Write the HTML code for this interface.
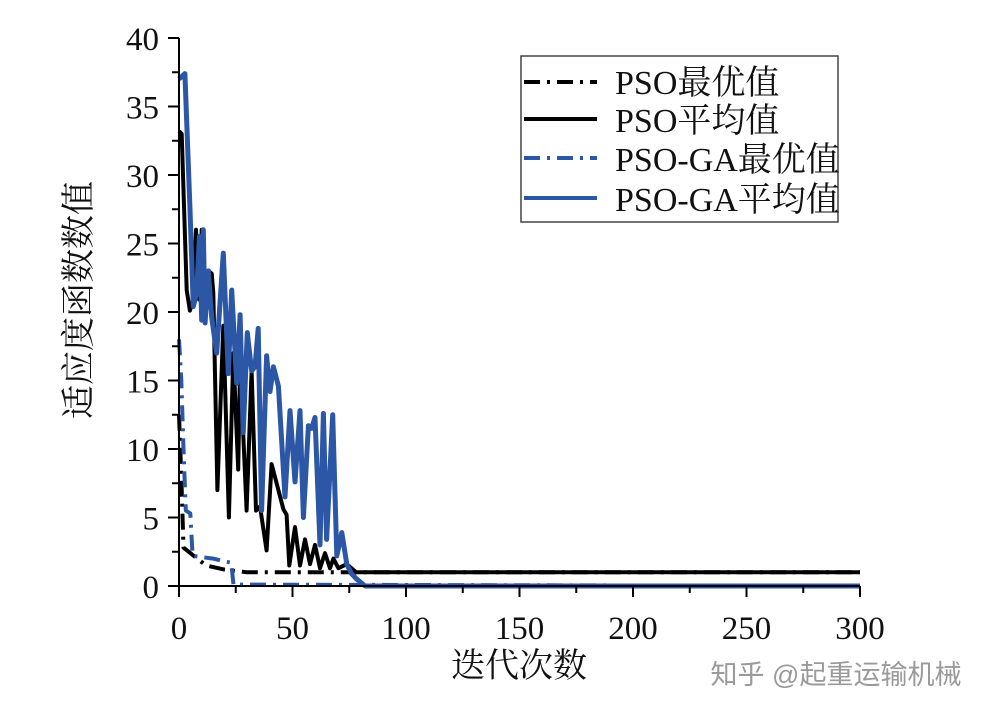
<!DOCTYPE html>
<html><head><meta charset="utf-8"><style>
html,body{margin:0;padding:0;background:#fff;}
svg{display:block;}
text{font-family:"Liberation Serif","Noto Serif CJK SC",serif;fill:#111;}
</style></head><body>
<svg id="chart" width="998" height="713" viewBox="0 0 998 713">
<g id="plot"></g>
<g id="axes"></g>
<text x="0" y="0" transform="translate(90,300) rotate(-90)" text-anchor="middle" font-size="34">适应度函数数值</text>
<text x="519" y="677" text-anchor="middle" font-size="34">迭代次数</text>
<text x="836" y="684" text-anchor="middle" font-size="27" style="fill:#9a9a9a;font-family:'Liberation Sans','Noto Sans CJK SC',sans-serif">知乎 @起重运输机械</text>
<g>
<rect x="521" y="56" width="317" height="166" fill="#fff" stroke="#444" stroke-width="1.5"/>
<g>
<line x1="524" y1="82" x2="597" y2="82" stroke="#000" stroke-width="4" stroke-dasharray="16,7,3,7"/>
<text x="615" y="94" font-size="34">PSO最优值</text></g>
<g>
<line x1="524" y1="119" x2="597" y2="119" stroke="#000" stroke-width="4"/>
<text x="615" y="132" font-size="34">PSO平均值</text></g>
<g>
<line x1="524" y1="158" x2="597" y2="158" stroke="#2c56a6" stroke-width="4" stroke-dasharray="16,7,3,7"/>
<text x="615" y="171" font-size="34">PSO-GA最优值</text></g>
<g>
<line x1="524" y1="198" x2="597" y2="198" stroke="#2c56a6" stroke-width="4"/>
<text x="615" y="211" font-size="34">PSO-GA平均值</text></g>
</g>
</svg>
<script>
const xTicks=[0,50,100,150,200,250,300];
const yTicks=[0,5,10,15,20,25,30,35,40];
const psoMeanX=[0,1.2,3.4,4.8,6.3,7.5,9,10,11.5,12.9,14.4,15.1,16.9,19.5,22,23.9,26.1,26.9,29.8,32,33.9,35.7,38.6,40.8,43,46,47.4,48.6,51.1,53.3,55.5,57.7,59.9,62.1,64.3,66.5,68,70.2,73.9,78,300];
const psoMeanY=[33.2,33,21.6,20.1,20.9,26,20.9,26,20.6,23,22.8,21.4,7,19,5,17,8.5,16.3,5.5,15.7,5.5,5.8,2.6,8.9,7.5,5.6,5.2,1.5,4.3,1.5,3.4,1.6,3,1.3,2.4,1.3,2,1.3,1.6,1.0,1.0];
const gaMeanX=[0,2.6,4.8,6.3,7.8,9,10,10.7,11.5,12.9,14.4,16.6,19.5,21.7,23.2,25.4,26.9,28.3,30.1,32,33.5,34.9,36.4,38.6,40.1,41.6,43.8,46.7,48.9,51.1,53.3,54.8,57,58.4,59.9,62.1,63.6,65,67.7,69.5,71.7,73.9,76,78.3,82,300];
const gaMeanY=[37,37.4,27.7,20.4,21.4,25.5,19.4,26,19.2,23,19.6,17,24.3,15.5,21.6,14.8,19.8,11.2,18.5,15.7,16,18.8,5.5,16.8,14.2,16,14.6,6.5,12.8,7.6,12.8,5,11.7,11.5,12.3,3,12.6,3.4,12.5,2.2,3.9,1.6,0.9,0.5,0,0];
const psoBestX=[0,1,2,5,8,12,20,30,300];
const psoBestY=[12.5,8,2.8,2.4,2,1.5,1.2,1.0,1.0];
const gaBestX=[0,1,2,3,5,6,15,20,23,24,300];
const gaBestY=[18,15,10,5.5,5.3,2.2,2,1.8,1.7,0.1,0];

const X=v=>179+v*(860-179)/300;
const Y=v=>586-v*(586-38)/40;
const NS='http://www.w3.org/2000/svg';
const plot=document.getElementById('plot'),axes=document.getElementById('axes');
function mk(tag,attrs,parent){const e=document.createElementNS(NS,tag);for(const k in attrs)e.setAttribute(k,attrs[k]);parent.appendChild(e);return e;}
function series(xs,ys,color,w,dash,name){
  const d=xs.map((x,i)=>(i?'L':'M')+X(x).toFixed(1)+','+Y(ys[i]).toFixed(1)).join('');
  const p=mk('path',{d:d,fill:'none',stroke:color,'stroke-width':w,'stroke-linejoin':'round'},plot);
  if(dash)p.setAttribute('stroke-dasharray',dash);
  
  
}
series(psoBestX,psoBestY,'#000',4,'16,7,3,7','pso-best-line');
series(psoMeanX,psoMeanY,'#000',4,null,'pso-mean-line');
series(gaBestX,gaBestY,'#2c56a6',4,'16,7,3,7','psoga-best-line');
series(gaMeanX,gaMeanY,'#2c56a6',5,null,'psoga-mean-line');

const xa=mk('line',{x1:179,y1:586,x2:860,y2:586,stroke:'#000','stroke-width':2},axes);


const ya=mk('line',{x1:179,y1:586,x2:179,y2:38,stroke:'#000','stroke-width':2},axes);


for(let v=0;v<=300;v+=25){const major=v%50===0;mk('line',{x1:X(v),y1:586,x2:X(v),y2:586+(major?11:7),stroke:'#000','stroke-width':2},axes);}
for(let v=0;v<=40;v+=2.5){const major=v%5===0;mk('line',{x1:179,y1:Y(v),x2:179-(major?11:7),y2:Y(v),stroke:'#000','stroke-width':2},axes);}
xTicks.forEach(v=>{const t=mk('text',{x:X(v),y:639,'text-anchor':'middle','font-size':33},axes);t.textContent=v;

});
yTicks.forEach(v=>{const t=mk('text',{x:159,y:Y(v)+12,'text-anchor':'end','font-size':33},axes);t.textContent=v;

});
</script>
</body></html>
